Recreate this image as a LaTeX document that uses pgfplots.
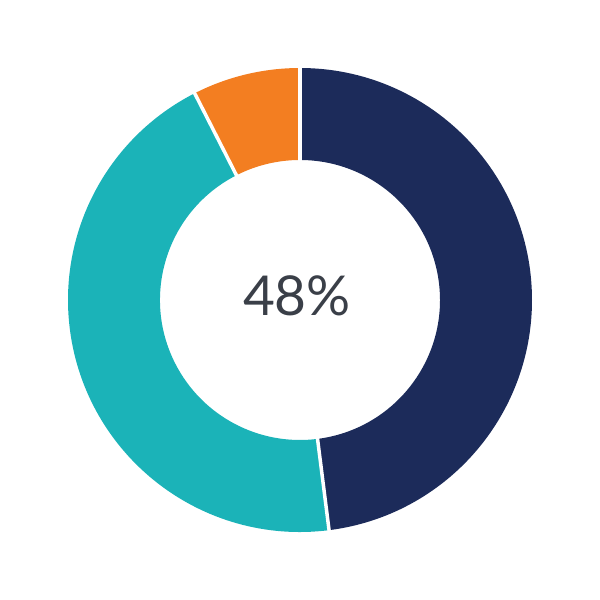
\documentclass[border=0pt]{standalone}
\usepackage{pgfplots}
\usepackage{pgfplotstable}
\pgfplotsset{compat=1.18}
\usepackage{fontspec}
\setmainfont{Lato}

\definecolor{navy}{HTML}{1C2B5A}
\definecolor{teal}{HTML}{1BB3B8}
\definecolor{orng}{HTML}{F37E21}
\definecolor{txt}{HTML}{3A3F48}

% share of each slice, clockwise from 12 o'clock
\pgfplotstableread{
value
48
44.5
7.5
}\slices

\begin{document}
\begin{tikzpicture}
\pgfplotstablegetelem{0}{value}\of\slices \let\va\pgfplotsretval
\pgfplotstablegetelem{1}{value}\of\slices \let\vb\pgfplotsretval
\pgfplotstablegetelem{2}{value}\of\slices \let\vc\pgfplotsretval
\pgfmathsetmacro\aA{90}
\pgfmathsetmacro\aB{\aA-3.6*\va}
\pgfmathsetmacro\aC{\aB-3.6*\vb}
\pgfmathsetmacro\aD{\aC-3.6*\vc}
\def\rO{232}
\def\rI{140}
\begin{axis}[
  disabledatascaling,
  x=1pt, y=1pt,
  xmin=-300, xmax=300,
  ymin=-300, ymax=300,
  hide axis,
  clip=false,
]
\path (axis cs:-300,-300) rectangle (axis cs:300,300);
\fill[navy] (axis cs:{\rO*cos(\aA)},{\rO*sin(\aA)}) arc[start angle=\aA, end angle=\aB, radius=\rO pt]
  -- (axis cs:{\rI*cos(\aB)},{\rI*sin(\aB)}) arc[start angle=\aB, end angle=\aA, radius=\rI pt] -- cycle;
\fill[teal] (axis cs:{\rO*cos(\aB)},{\rO*sin(\aB)}) arc[start angle=\aB, end angle=\aC, radius=\rO pt]
  -- (axis cs:{\rI*cos(\aC)},{\rI*sin(\aC)}) arc[start angle=\aC, end angle=\aB, radius=\rI pt] -- cycle;
\fill[orng] (axis cs:{\rO*cos(\aC)},{\rO*sin(\aC)}) arc[start angle=\aC, end angle=\aD, radius=\rO pt]
  -- (axis cs:{\rI*cos(\aD)},{\rI*sin(\aD)}) arc[start angle=\aD, end angle=\aC, radius=\rI pt] -- cycle;
% white gaps between slices
\draw[white, line width=3.5pt] (axis cs:{(\rI-2)*cos(\aA)},{(\rI-2)*sin(\aA)}) -- (axis cs:{(\rO+2)*cos(\aA)},{(\rO+2)*sin(\aA)});
\draw[white, line width=3.5pt] (axis cs:{(\rI-2)*cos(\aB)},{(\rI-2)*sin(\aB)}) -- (axis cs:{(\rO+2)*cos(\aB)},{(\rO+2)*sin(\aB)});
\draw[white, line width=3.5pt] (axis cs:{(\rI-2)*cos(\aC)},{(\rI-2)*sin(\aC)}) -- (axis cs:{(\rO+2)*cos(\aC)},{(\rO+2)*sin(\aC)});
\node[anchor=base, text=txt, font=\fontsize{55}{60}\selectfont, inner sep=0pt] at (axis cs:-3,-15) {48\%};
\end{axis}
\end{tikzpicture}
\end{document}
